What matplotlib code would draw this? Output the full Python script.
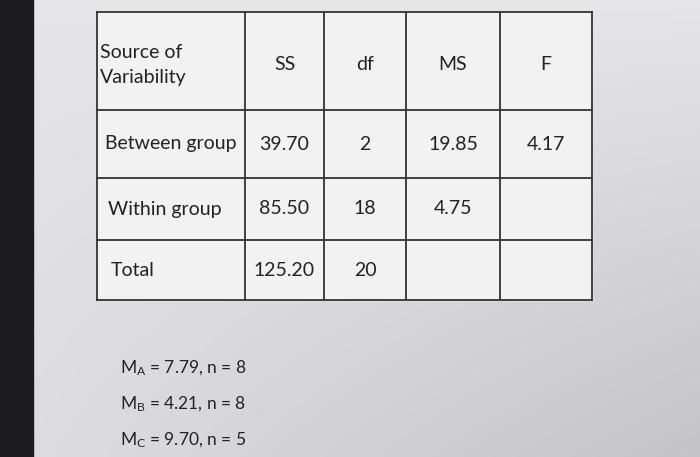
import matplotlib
matplotlib.use("Agg")
import matplotlib.pyplot as plt
import numpy as np

plt.rcParams['font.family'] = ['Lato', 'DejaVu Sans']
plt.rcParams['mathtext.fontset'] = 'custom'
plt.rcParams['mathtext.rm'] = 'Lato'
plt.rcParams['mathtext.it'] = 'Lato'

headers = ["Source of\nVariability", "SS", "df", "MS", "F"]
sources = ["Between group", "Within group", "Total"]
ss = ["39.70", "85.50", "125.20"]
df = ["2", "18", "20"]
ms = ["19.85", "4.75", ""]
fval = ["4.17", "", ""]
notes = ["M$_\\mathrm{A}$ = 7.79, n = 8", "M$_\\mathrm{B}$ = 4.21, n = 8", "M$_\\mathrm{C}$ = 9.70, n = 5"]

fig = plt.figure(figsize=(7, 4.57), dpi=100)
ax = fig.add_axes([0, 0, 1, 1])
ax.set_xlim(0, 700); ax.set_ylim(457, 0); ax.axis('off')

xx, yy = np.meshgrid(np.linspace(0, 1, 200), np.linspace(0, 1, 130))
bg = 0.90 - 0.10 * yy * xx - 0.03 * yy
img = np.dstack([bg, bg, bg + 0.01])
ax.imshow(np.clip(img, 0, 1), extent=[0, 700, 457, 0], aspect='auto', zorder=0)
ax.fill_between([0, 33], 0, 457, color='#1c1c1e', zorder=1)
cols = [97, 245, 324, 406, 500, 592]
rows = [12, 110, 178, 240, 300]
ax.fill_between([cols[0], cols[-1]], rows[0], rows[-1], color='#f2f2f2', zorder=1)
for x in cols:
    ax.plot([x, x], [rows[0], rows[-1]], color='#333333', lw=1.3, zorder=2)
for y in rows:
    ax.plot([cols[0], cols[-1]], [y, y], color='#333333', lw=1.3, zorder=2)

fs = 14
tc = '#222222'
ax.text(cols[0] + 3, (rows[0] + rows[1]) / 2 + 4, headers[0], ha='left', va='center', fontsize=fs, color=tc, linespacing=1.6)
for j, h in enumerate(headers[1:], start=1):
    ax.text((cols[j] + cols[j + 1]) / 2, (rows[0] + rows[1]) / 2 + 4, h, ha='center', va='center', fontsize=fs, color=tc)
for i in range(3):
    yc = (rows[i + 1] + rows[i + 2]) / 2
    ax.text(cols[0] + 8 + 3 * i, yc, sources[i], ha='left', va='center', fontsize=fs, color=tc)
    for j, v in enumerate([ss[i], df[i], ms[i], fval[i]], start=1):
        ax.text((cols[j] + cols[j + 1]) / 2, yc, v, ha='center', va='center', fontsize=fs, color=tc)

for k, t in enumerate(notes):
    ax.text(120, 368 + 36 * k, t, ha='left', va='center', fontsize=12.5, color=tc)

fig.savefig("out.png", dpi=100)
